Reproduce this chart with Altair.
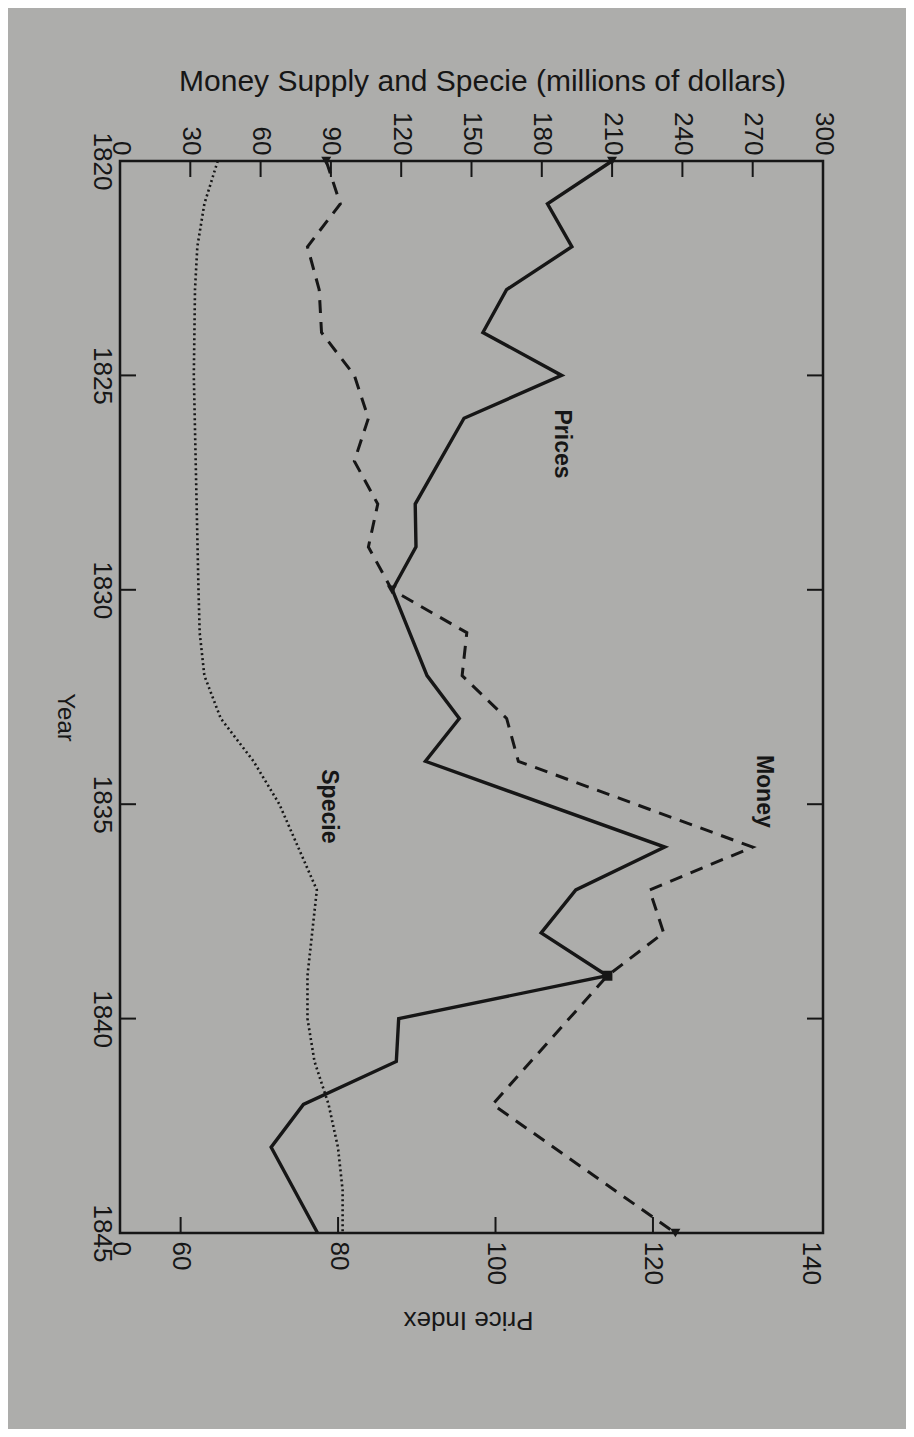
import altair as alt
import pandas as pd

# ---------------- data ----------------
price_years = [1820, 1821, 1822, 1823, 1824, 1825, 1826, 1828, 1829, 1830, 1832, 1833,
               1834, 1836, 1837, 1838, 1839, 1840, 1841, 1842, 1843, 1845]
price_vals = [114.8, 106.6, 109.7, 101.4, 98.4, 108.4, 96.0, 89.8, 89.9, 86.9, 91.3, 95.4,
              91.1, 121.5, 110.2, 105.8, 114.2, 87.7, 87.4, 75.6, 71.5, 77.4]

money_years = [1820, 1821, 1822, 1823, 1824, 1825, 1826, 1827, 1828, 1829, 1830, 1831, 1832,
               1833, 1834, 1836, 1837, 1838, 1839, 1842, 1845]
money_vals = [88, 94, 80, 85, 86, 100, 106, 100, 110, 106, 116, 148, 146,
              165, 170, 270, 226, 232, 208, 159, 237]

specie_years = [1820, 1821, 1822, 1823, 1825, 1830, 1831, 1832, 1833, 1834, 1835, 1836,
                1837, 1838, 1839, 1840, 1841, 1842, 1843, 1844, 1845]
specie_vals = [41.7, 36, 33, 32, 31.5, 33.5, 34, 36, 43, 57, 68, 76,
               84, 82, 80, 80, 83, 89, 93, 95, 95]

money_ticks = [30, 60, 90, 120, 150, 180, 210, 240, 270]
money_labels = [0, 30, 60, 90, 120, 150, 180, 210, 240, 270, 300]
year_ticks = [1825, 1830, 1835, 1840]
year_labels = [1820, 1825, 1830, 1835, 1840, 1845]
price_ticks = [60, 80, 100, 120]
price_labels = [52.3, 60, 80, 100, 120, 140]

series_names = ["Prices", "Money", "Specie"]
series_label_year = [1826.6, 1834.7, 1835.05]
series_label_money = [188.6, 275, 89]

# marker points on the money line (filled triangles / square in the picture)
money_marker_years = [1820, 1830, 1839, 1845]
money_marker_shapes = ["triangle-down", "triangle-down", "square", "triangle-down"]
price_marker_years = [1820]

# ---------------- styling ----------------
INK = "#161616"
BG = "#adadab"
FONT = "Liberation Sans"
W, H = 703, 1072
TICK = 16

mscale = alt.Scale(domain=[0, 300], nice=False, zero=False)
pscale = alt.Scale(domain=[52.3, 141.6], nice=False, zero=False)
yscale = alt.Scale(domain=[1820, 1845], reverse=True, nice=False, zero=False)

money_df = pd.DataFrame({"year": money_years, "v": money_vals})
specie_df = pd.DataFrame({"year": specie_years, "v": specie_vals})
price_df = pd.DataFrame({"year": price_years, "v": price_vals})

money_lookup = dict(zip(money_years, money_vals))
price_lookup = dict(zip(price_years, price_vals))
money_mk = pd.DataFrame({
    "year": money_marker_years,
    "v": [money_lookup[y] for y in money_marker_years],
    "shape": money_marker_shapes,
})
price_mk = pd.DataFrame({
    "year": price_marker_years,
    "v": [price_lookup[y] for y in price_marker_years],
})

money_axis = alt.Axis(
    orient="top", values=money_labels, labelAngle=90, labelAlign="right",
    labelBaseline="middle", labelPadding=6, labelFontSize=26, ticks=False, domain=False,
    grid=False, title="Money Supply and Specie (millions of dollars)", titleAngle=0,
    titleFontSize=30, titleFontWeight="normal", titleX=362, titleY=-80,
    titleAlign="center", titleBaseline="middle", labelFlush=False, labelOverlap=False,
)
price_axis = alt.Axis(
    orient="bottom", values=price_labels, labelAngle=90, labelAlign="left",
    labelBaseline="middle", labelPadding=8, labelFontSize=26, ticks=False, domain=False,
    grid=False, labelExpr="datum.value < 55 ? '0' : format(datum.value, 'd')",
    title="Price Index", titleAngle=180, titleFontSize=26, titleFontWeight="normal",
    titleX=348, titleY=86, titleAlign="center", titleBaseline="middle",
    labelFlush=False, labelOverlap=False,
)
year_axis = alt.Axis(
    orient="left", values=year_labels, format="d", labelAngle=90, labelAlign="center",
    labelBaseline="top", labelPadding=6, labelFontSize=26, ticks=False, domain=False,
    grid=False, title="Year", titleAngle=90, titleFontSize=24, titleFontWeight="normal",
    titleX=-56, titleY=556, titleAlign="center", titleBaseline="middle",
    labelFlush=False, labelOverlap=False,
)

money_line = alt.Chart(money_df).mark_line(
    color=INK, strokeWidth=3, strokeDash=[13, 9]
).encode(
    x=alt.X("v:Q", scale=mscale, axis=money_axis),
    y=alt.Y("year:Q", scale=yscale, axis=year_axis),
    order="year:Q",
)
specie_line = alt.Chart(specie_df).mark_line(
    color=INK, strokeWidth=2.6, strokeDash=[2, 3]
).encode(
    x=alt.X("v:Q", scale=mscale, axis=None),
    y=alt.Y("year:Q", scale=yscale, axis=None),
    order="year:Q",
)
price_line = alt.Chart(price_df).mark_line(color=INK, strokeWidth=3.4).encode(
    x=alt.X("v:Q", scale=pscale, axis=price_axis),
    y=alt.Y("year:Q", scale=yscale, axis=None),
    order="year:Q",
)

money_markers = alt.Chart(money_mk).mark_point(
    filled=True, color=INK, size=100, opacity=1
).encode(
    x=alt.X("v:Q", scale=mscale, axis=None),
    y=alt.Y("year:Q", scale=yscale, axis=None),
    shape=alt.Shape("shape:N", scale=None, legend=None),
)
price_markers = alt.Chart(price_mk).mark_point(
    filled=True, color=INK, size=100, opacity=1, shape="triangle-down"
).encode(
    x=alt.X("v:Q", scale=pscale, axis=None),
    y=alt.Y("year:Q", scale=yscale, axis=None),
)

top_ticks = alt.Chart(pd.DataFrame({"v": money_ticks})).mark_rule(
    color=INK, strokeWidth=2
).encode(x=alt.X("v:Q", scale=mscale, axis=None), y=alt.value(0), y2=alt.value(TICK))

left_ticks = alt.Chart(pd.DataFrame({"year": year_ticks})).mark_rule(
    color=INK, strokeWidth=2
).encode(y=alt.Y("year:Q", scale=yscale, axis=None), x=alt.value(0), x2=alt.value(TICK))

right_ticks = alt.Chart(pd.DataFrame({"year": year_ticks})).mark_rule(
    color=INK, strokeWidth=2
).encode(y=alt.Y("year:Q", scale=yscale, axis=None), x=alt.value(W - TICK), x2=alt.value(W))

bottom_ticks = alt.Chart(pd.DataFrame({"v": price_ticks})).mark_rule(
    color=INK, strokeWidth=2
).encode(x=alt.X("v:Q", scale=pscale, axis=None), y=alt.value(H - TICK), y2=alt.value(H))

labels_df = pd.DataFrame({"name": series_names, "year": series_label_year, "v": series_label_money})
series_text = alt.Chart(labels_df).mark_text(
    angle=90, font=FONT, fontSize=23, fontWeight="bold", color=INK,
    align="center", baseline="middle"
).encode(
    x=alt.X("v:Q", scale=mscale, axis=None),
    y=alt.Y("year:Q", scale=yscale, axis=None),
    text="name:N",
)

chart = alt.layer(
    money_line, specie_line, price_line, money_markers, price_markers,
    top_ticks, left_ticks, right_ticks, bottom_ticks, series_text
).resolve_scale(
    x="independent", y="shared"
).resolve_axis(
    x="independent", y="independent"
).properties(
    width=W, height=H,
    autosize=alt.AutoSizeParams(type="none"),
    padding={"left": 112, "top": 153, "right": 83, "bottom": 196},
    background=BG,
).configure_view(
    stroke=INK, strokeWidth=2.5
).configure_axis(
    labelFont=FONT, titleFont=FONT, labelColor=INK, titleColor=INK
)

chart.save("out.html", embed_options={"renderer": "svg", "actions": False})
